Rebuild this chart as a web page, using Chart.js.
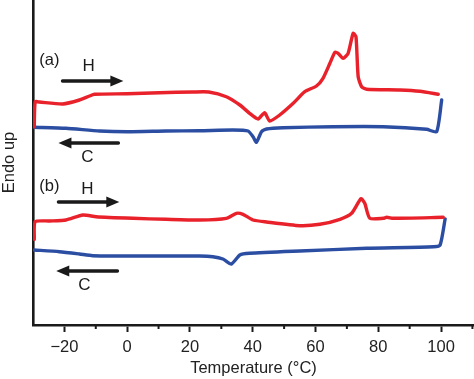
<!DOCTYPE html>
<html><head><meta charset="utf-8">
<script src="https://cdn.jsdelivr.net/npm/chart.js@4.4.1/dist/chart.umd.min.js"></script>
<style>html,body{margin:0;padding:0;background:#fff}#wrap{width:474px;height:379px}</style>
</head><body><div id="wrap"><canvas id="c"></canvas></div>
<script>
// Curve (a) heating
const aHeatT = [-29.6,-29.3,-28,-20.5,-15.2,-12,-10.4,0,10.3,21,26,31.6,35.9,39,41.7,43.8,45.4,48.6,52.9,56.6,60.3,62.4,64.6,66.2,67.2,68.8,70.4,72,72.9,73.6,74.7,76.3,86.9,93.3,99.1];
const aHeatV = [19.83,22.33,22.3,22.1,22.5,22.9,23.07,23.13,23.23,23.3,23.3,22.83,22.0,21.17,20.6,21.23,20.4,21.0,22.17,23.33,23.9,24.67,26.17,27.27,27.17,26.67,27.17,29.17,28.83,24.83,23.83,23.57,23.5,23.37,23.07];
// Curve (a) cooling
const aCoolT = [100.2,98.6,95.4,81.6,65.6,49.7,44.4,42.8,41.2,40.1,38.5,33.7,23.1,12.4,0,-8.8,-19.5,-29.6];
const aCoolV = [22.5,19.33,19.57,19.83,19.83,19.73,19.6,19.33,18.27,18.83,19.4,19.5,19.43,19.4,19.33,19.4,19.67,19.77];
// Curve (b) heating
const bHeatT = [-29.6,-29.3,-24.8,-19.5,-14.1,-9.9,1.8,12.4,23.1,31.6,34.8,36.9,40.1,44.4,55,61.4,67.8,71.5,74.5,75.7,77.3,81.6,82.7,84.8,100.7];
const bHeatV = [8.57,10.33,10.4,10.5,11.0,10.83,10.67,10.57,10.5,10.67,11.17,11.07,10.5,10.3,9.93,10.07,10.57,11.17,12.63,12.17,10.67,10.67,10.77,10.67,10.77];
// Curve (b) cooling
const bCoolT = [101.3,99.7,97.6,76.3,55,39,35.9,33.2,30.5,27.3,23.1,1.8,-11,-15.2,-21.6,-29.6];
const bCoolV = [10.6,8.0,7.83,7.67,7.4,7.17,7.0,6.1,6.6,6.83,6.9,6.9,6.93,7.1,7.33,7.5];
// X tick labels (every 20)
const xTickLabels = ['−20','0','20','40','60','80','100'];
const xTickValues = [-20,0,20,40,60,80,100];

const RED = '#e8212b', BLUE = '#2b4ea2';
const FONT = '"Liberation Sans", Arial, sans-serif';
const pts = (t, v) => t.map((x, i) => ({x, y: v[i]}));
function ds(t, v, c){ return {data: pts(t, v), borderColor: c, borderWidth: 3.4, pointRadius: 0, tension: 0.2, fill: false, borderCapStyle: 'round', borderJoinStyle: 'round'}; }

const annot = {
  id: 'annot',
  afterDatasetsDraw(chart){
    const {ctx, scales:{x, y}} = chart;
    ctx.save();
    ctx.fillStyle = '#1a1a1a';
    ctx.textAlign = 'center'; ctx.textBaseline = 'middle';
    const texts = [['(a)',-24.8,26.5],['H',-12.3,25.9],['C',-12.7,16.8],['(b)',-24.8,13.9],['H',-12.7,13.6],['C',-13.6,4.0]];
    texts.forEach(([s,t,v]) => {
      ctx.font = (s.length > 1 ? '16.5px ' : '17px ') + FONT;
      ctx.fillText(s, x.getPixelForValue(t), y.getPixelForValue(v));
    });
    const arrows = [[-20.6,-1.2,24.4],[-2.8,-21.9,18.2],[-21.9,-2.5,12.3],[-3.1,-22.6,5.4]];
    ctx.strokeStyle = '#1a1a1a'; ctx.lineWidth = 3.4; ctx.lineCap = 'round';
    arrows.forEach(([t0,t1,v]) => {
      const x0 = x.getPixelForValue(t0), x1 = x.getPixelForValue(t1), py = y.getPixelForValue(v);
      const dir = Math.sign(x1 - x0);
      const hl = 13, hh = 5.5;
      ctx.beginPath(); ctx.moveTo(x0, py); ctx.lineTo(x1 - dir*hl*0.6, py); ctx.stroke();
      ctx.beginPath(); ctx.moveTo(x1, py); ctx.lineTo(x1 - dir*hl, py - hh); ctx.lineTo(x1 - dir*hl, py + hh); ctx.closePath(); ctx.fill();
    });
    // minor ticks
    ctx.lineWidth = 2; ctx.lineCap = 'butt';
    for (let t = -10; t <= 110; t += 20) {
      const px = x.getPixelForValue(t);
      ctx.beginPath(); ctx.moveTo(px, x.top); ctx.lineTo(px, x.top + 4); ctx.stroke();
    }
    ctx.restore();
  }
};

new Chart(document.getElementById('c'), {
  type: 'line',
  data: { datasets: [ds(aHeatT,aHeatV,RED), ds(aCoolT,aCoolV,BLUE), ds(bHeatT,bHeatV,RED), ds(bCoolT,bCoolV,BLUE)] },
  options: {
    responsive: true, maintainAspectRatio: false, animation: false,
    layout: {padding: {top: 0, right: 0, left: 0, bottom: 0}},
    plugins: {legend: {display: false}, tooltip: {enabled: false}},
    scales: {
      x: {
        type: 'linear', min: -30, max: 110.5,
        afterBuildTicks(s){ s.ticks = xTickValues.map(v => ({value: v})); },
        afterFit(s){ s.height = 54; },
        border: {color: '#1a1a1a', width: 2.6},
        grid: {display: true, drawOnChartArea: false, tickLength: 7, tickWidth: 2, tickColor: '#1a1a1a'},
        ticks: {color: '#222', font: {size: 16.5, family: FONT}, padding: 6, maxRotation: 0,
          callback: (v) => { const i = xTickValues.indexOf(v); return i >= 0 ? xTickLabels[i] : ''; }},
        title: {display: true, text: 'Temperature (°C)', color: '#222', font: {size: 16.5, family: FONT}, padding: {top: 0, bottom: 1}}
      },
      y: {
        min: 0, max: 32.5,
        afterFit(s){ s.width = 33; },
        border: {color: '#1a1a1a', width: 2.6},
        grid: {display: false},
        ticks: {display: false},
        title: {display: true, text: 'Endo up', color: '#222', font: {size: 16.5, family: FONT}, padding: {top: 0, bottom: 0}}
      }
    }
  },
  plugins: [annot]
});
</script></body></html>
